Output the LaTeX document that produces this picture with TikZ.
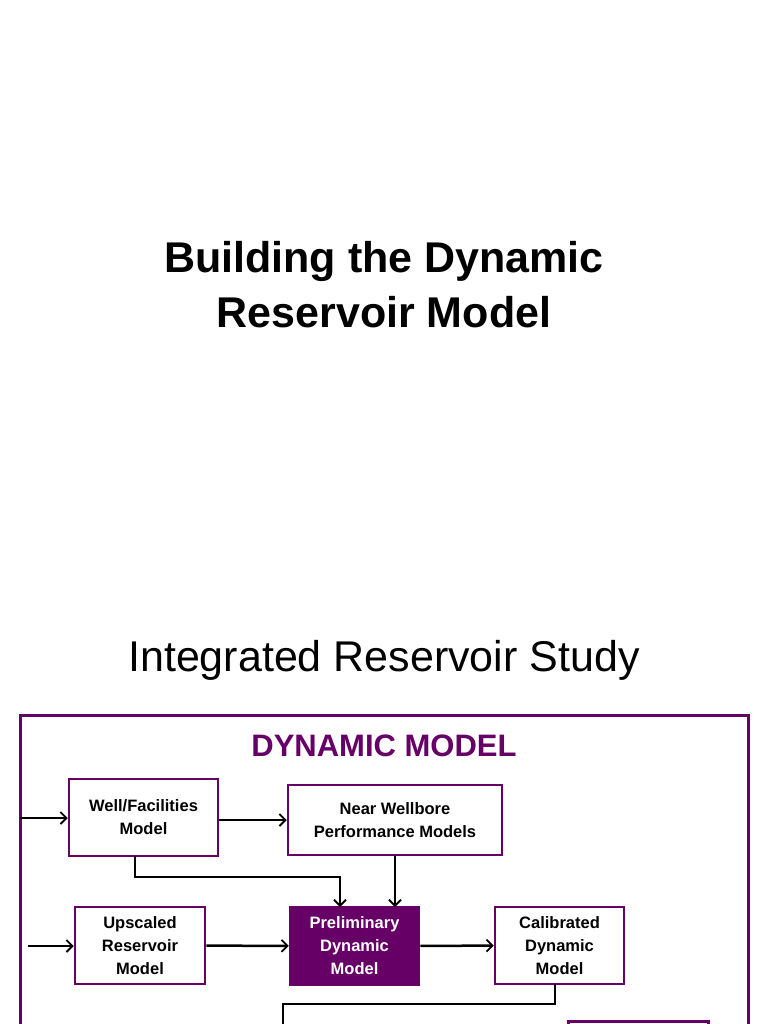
\documentclass[tikz,border=0pt]{standalone}
\usepackage{fontspec}
\setmainfont{Liberation Sans}
\usetikzlibrary{arrows.meta}
\definecolor{pur}{HTML}{660066}
\begin{document}
\begin{tikzpicture}[x=1pt,y=-1pt,
 box/.style={draw=pur,line width=2.5pt,fill=white,inner sep=0pt,align=center,font=\bfseries\fontsize{16.5}{23}\selectfont},
 arr/.style={line width=2.5pt,-{Straight Barb[length=6pt,width=12pt,line width=1.8pt]}}]
\useasboundingbox (0,0) rectangle (768,1024);
\node[font=\bfseries\fontsize{43}{55}\selectfont,align=center] (t) at (384,285) {Building the Dynamic\\Reservoir Model};
\node[font=\fontsize{43}{50}\selectfont] (s) at (384,660) {Integrated Reservoir Study};
\draw[pur,line width=3pt] (20,1030) -- (20,715) -- (748,715) -- (748,1030);
\node[font=\bfseries\fontsize{31}{36}\selectfont,text=pur] (dm) at (384,746) {DYNAMIC MODEL};
\node[box,minimum width=149pt,minimum height=77pt] (wf) at (143.5,817.5) {Well/Facilities\\Model};
\node[box,minimum width=214pt,minimum height=70pt] (nw) at (395,820) {Near Wellbore\\Performance Models};
\node[box,minimum width=130pt,minimum height=77pt] (up) at (140,945.5) {Upscaled\\Reservoir\\Model};
\node[box,fill=pur,text=white,minimum width=129pt,minimum height=78pt] (pr) at (354.5,946) {Preliminary\\Dynamic\\Model};
\node[box,minimum width=129pt,minimum height=77pt] (ca) at (559.5,945.5) {Calibrated\\Dynamic\\Model};
\node[box,minimum width=140pt,minimum height=40pt,anchor=north west] (br) at (567,1020) {};
\coordinate (in1) at (20,818);
\coordinate (in2) at (28,946);
\coordinate (out) at (283,1030);
\draw[arr] (in1) -- (wf.west|-in1);
\draw[arr] (in2) -- (up.west|-in2);
\draw[arr] (wf.east|-nw) -- (nw.west);
\draw[arr] (135,856) -- (135,877) -- (340,877) -- (340,907);
\draw[arr] (nw.south) -- (395,907);
\draw[arr] (up) -- (pr);
\draw[arr] (pr) -- (ca);
\draw[line width=2.5pt] (555,984) -- (555,1004) -- (283,1004) -- (out);
\end{tikzpicture}
\end{document}
